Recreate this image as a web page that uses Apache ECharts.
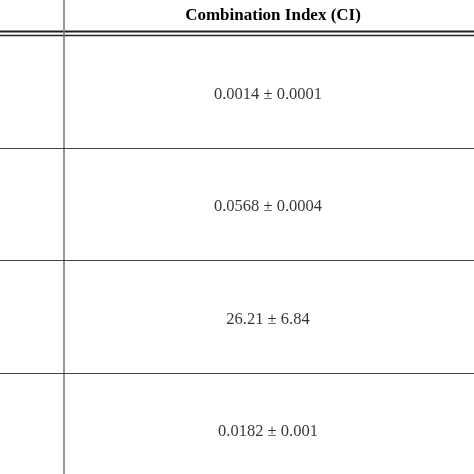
<!DOCTYPE html>
<html><head><meta charset="utf-8">
<script src="https://cdn.jsdelivr.net/npm/echarts@6/dist/echarts.min.js"></script>
<style>html,body{margin:0;background:#fff}#c{width:474px;height:474px}</style>
</head><body><div id="c"></div>
<script>
// table content
var header = 'Combination Index (CI)';
var ciValues = ['0.0014 \u00b1 0.0001', '0.0568 \u00b1 0.0004', '26.21 \u00b1 6.84', '0.0182 \u00b1 0.001'];
var rowBorders = [1, 2, 3];

var chart = echarts.init(document.getElementById('c'));
chart.setOption({
    animation: false,
    title: {
        text: header, left: 268, top: 2, textAlign: 'center',
        textStyle: { fontFamily: 'Liberation Serif', fontSize: 17, fontWeight: 'bold', color: '#000' }
    },
    grid: { left: 0, right: 0, top: 35.5, bottom: 0 },
    xAxis: { type: 'value', min: 0, max: 474, show: false },
    yAxis: { type: 'value', min: 0, max: 3.898, inverse: true, show: false },
    graphic: [
        { type: 'line', shape: { x1: 0, y1: 31.5, x2: 474, y2: 31.5 }, style: { stroke: '#222', lineWidth: 2 } },
        { type: 'line', shape: { x1: 0, y1: 35.5, x2: 474, y2: 35.5 }, style: { stroke: '#222', lineWidth: 1.5 } },
        { type: 'line', shape: { x1: 64, y1: 0, x2: 64, y2: 474 }, style: { stroke: '#777', lineWidth: 1.5 } }
    ],
    series: [{
        type: 'scatter',
        symbolSize: 0,
        data: ciValues.map(function (v, i) { return { value: [268, i + 0.525], name: v }; }),
        label: {
            show: true, position: 'inside', formatter: '{b}',
            fontFamily: 'Liberation Serif', fontSize: 16.5, color: '#000'
        },
        markLine: {
            symbol: 'none', silent: true, label: { show: false },
            lineStyle: { color: '#444', width: 1, type: 'solid' },
            data: rowBorders.map(function (b) { return { yAxis: b }; })
        }
    }]
});
</script></body></html>
